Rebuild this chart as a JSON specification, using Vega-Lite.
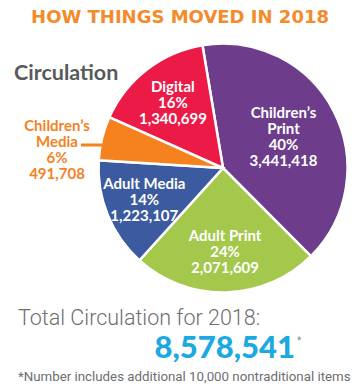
{
  "$schema": "https://vega.github.io/schema/vega-lite/v6.json",
  "width": 360,
  "height": 391,
  "autosize": {"type": "fit", "contains": "padding"},
  "padding": 0,
  "background": "white",
  "config": {"view": {"stroke": null}},
  "data": {
    "values": [
      {"category": "Children's Print", "label": "Children’s\nPrint", "share": 40, "count": 3441418, "order": 1},
      {"category": "Adult Print", "label": "Adult Print", "share": 24, "count": 2071609, "order": 2},
      {"category": "Adult Media", "label": "Adult Media", "share": 14, "count": 1223107, "order": 3},
      {"category": "Children's Media", "label": "Children’s\nMedia", "share": 6, "count": 491708, "order": 4},
      {"category": "Digital", "label": "Digital", "share": 16, "count": 1340699, "order": 5}
    ]
  },
  "layer": [
    {
      "mark": {"type": "arc", "outerRadius": 124.5, "stroke": "white", "strokeWidth": 2.5},
      "encoding": {
        "x": {"value": 223},
        "y": {"value": 168},
        "theta": {"field": "count", "type": "quantitative", "stack": true, "scale": {"range": [-0.1658, 6.1174]}},
        "order": {"field": "order", "type": "quantitative"},
        "color": {
          "field": "category", "type": "nominal", "legend": null,
          "scale": {
            "domain": ["Children's Print", "Adult Print", "Adult Media", "Children's Media", "Digital"],
            "range": ["#6d3d8c", "#a3c84b", "#3b5a9f", "#f5821f", "#ec1a47"]
          }
        }
      }
    },
    {
      "transform": [
        {"calculate": "datum.category === \"Children's Media\" ? '' : datum.label + '\\n' + datum.share + '%\\n' + format(datum.count, ',')", "as": "txt"}
      ],
      "mark": {
        "type": "text",
        "radius": {"expr": "datum.category === \"Children's Print\" ? 68 : datum.category === 'Adult Print' ? 84 : datum.category === 'Adult Media' ? 85 : 82"},
        "dy": {"expr": "-(length(split(datum.txt, '\\n')) - 1) * 8"},
        "font": "Lato", "fontWeight": "bold", "fontSize": 15, "lineHeight": 16, "lineBreak": "\n",
        "fill": "white", "align": "center", "baseline": "middle"
      },
      "encoding": {
        "x": {"value": 223},
        "y": {"value": 168},
        "theta": {"field": "count", "type": "quantitative", "stack": true, "scale": {"range": [-0.1658, 6.1174]}},
        "order": {"field": "order", "type": "quantitative"},
        "text": {"field": "txt", "type": "nominal"}
      }
    },
    {
      "transform": [
        {"filter": "datum.category === \"Children's Media\""},
        {"calculate": "datum.label + '\\n' + datum.share + '%\\n' + format(datum.count, ',')", "as": "txt"}
      ],
      "mark": {"type": "text", "font": "Lato", "fontWeight": "bold", "fontSize": 15, "lineHeight": 16, "lineBreak": "\n", "fill": "#f5821f", "align": "center", "baseline": "middle", "dy": -24},
      "encoding": {
        "x": {"value": 57},
        "y": {"value": 150},
        "text": {"field": "txt", "type": "nominal"}
      }
    },
    {
      "transform": [{"filter": "datum.category === \"Children's Media\""}],
      "mark": {"type": "rule", "stroke": "#f5821f", "strokeWidth": 3},
      "encoding": {
        "x": {"value": 81},
        "x2": {"value": 102},
        "y": {"value": 145}
      }
    },
    {
      "data": {"values": [{"t": "HOW THINGS MOVED IN 2018"}]},
      "mark": {"type": "text", "font": "DejaVu Sans", "fontWeight": "bold", "fontSize": 18, "fill": "#f58a2b", "align": "center", "baseline": "alphabetic"},
      "encoding": {"x": {"value": 180}, "y": {"value": 23}, "text": {"field": "t", "type": "nominal"}}
    },
    {
      "data": {"values": [{"t": "Circulation"}]},
      "mark": {"type": "text", "font": "Lato", "fontWeight": "bold", "fontSize": 21.5, "fill": "#58595b", "align": "left", "baseline": "alphabetic"},
      "encoding": {"x": {"value": 14}, "y": {"value": 80}, "text": {"field": "t", "type": "nominal"}}
    },
    {
      "data": {"values": [{"t": "Total Circulation for 2018:"}]},
      "mark": {"type": "text", "font": "Roboto", "fontWeight": 300, "fontSize": 21.5, "fill": "#6d6e71", "align": "left", "baseline": "alphabetic"},
      "encoding": {"x": {"value": 18}, "y": {"value": 325}, "text": {"field": "t", "type": "nominal"}}
    },
    {
      "data": {"values": [{"t": "8,578,541"}]},
      "mark": {"type": "text", "font": "Lato", "fontWeight": 900, "fontSize": 31, "fill": "#1ca8e1", "align": "right", "baseline": "alphabetic"},
      "encoding": {"x": {"value": 295}, "y": {"value": 358}, "text": {"field": "t", "type": "nominal"}}
    },
    {
      "data": {"values": [{"t": "*"}]},
      "mark": {"type": "text", "font": "Roboto", "fontSize": 10, "fill": "#8a8b8d", "align": "left", "baseline": "alphabetic"},
      "encoding": {"x": {"value": 297}, "y": {"value": 344}, "text": {"field": "t", "type": "nominal"}}
    },
    {
      "data": {"values": [{"t": "*Number includes additional 10,000 nontraditional items"}]},
      "mark": {"type": "text", "font": "Roboto", "fontSize": 13.3, "fill": "#6d6e71", "align": "left", "baseline": "alphabetic"},
      "encoding": {"x": {"value": 18}, "y": {"value": 381}, "text": {"field": "t", "type": "nominal"}}
    }
  ]
}
